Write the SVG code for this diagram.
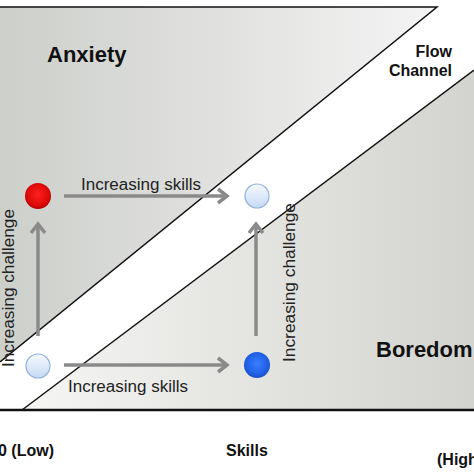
<svg xmlns="http://www.w3.org/2000/svg" width="474" height="474" viewBox="0 0 474 474">
  <style>
    .lbl { font-family: "Liberation Sans", Arial, sans-serif; fill: #111; }
    .big { font-size: 22px; font-weight: bold; }
    .mid { font-size: 16px; font-weight: bold; }
    .small { font-size: 16px; fill: #222; }
    .edge { stroke: #111; stroke-width: 1.5; fill: none; }
    .arrow { stroke: #8a8a8a; stroke-width: 3.5; fill: none; marker-end: url(#ah); }
    .light { fill: url(#gLight); stroke: #8fb2dc; stroke-width: 1.2; }
  </style>
  <defs>
    <linearGradient id="gAnx" x1="0" y1="0" x2="1" y2="0">
      <stop offset="0" stop-color="#cdcfcb"/>
      <stop offset="1" stop-color="#f4f4f4"/>
    </linearGradient>
    <linearGradient id="gBor" x1="0" y1="0" x2="1" y2="0">
      <stop offset="0" stop-color="#f5f5f3"/>
      <stop offset="1" stop-color="#d3d4d0"/>
    </linearGradient>
    <linearGradient id="gLight" x1="0" y1="0" x2="0" y2="1">
      <stop offset="0" stop-color="#f6f9fe"/>
      <stop offset="1" stop-color="#c6daf3"/>
    </linearGradient>
    <radialGradient id="gRed" cx="0.5" cy="0.45" r="0.55">
      <stop offset="0" stop-color="#ff2020"/>
      <stop offset="0.75" stop-color="#dd0a0a"/>
      <stop offset="1" stop-color="#b80000"/>
    </radialGradient>
    <radialGradient id="gBlue" cx="0.5" cy="0.45" r="0.55">
      <stop offset="0" stop-color="#3b7fff"/>
      <stop offset="0.75" stop-color="#1f5fe6"/>
      <stop offset="1" stop-color="#1a4fc4"/>
    </radialGradient>
    <marker id="ah" viewBox="-14 -10 18 20" markerWidth="18" markerHeight="20" refX="0" refY="0" orient="auto" markerUnits="userSpaceOnUse">
      <path d="M-9,-7 L0,0 L-9,7" fill="none" stroke="#8a8a8a" stroke-width="3.5"/>
    </marker>
  </defs>

  <rect width="474" height="474" fill="#ffffff"/>

  <g id="anxiety-region">
    <polygon points="0,7 437,7 0,362" fill="url(#gAnx)"/>
  </g>
  <g id="boredom-region">
    <polygon points="22,410 474,70 474,410" fill="url(#gBor)"/>
  </g>

  <g id="frame">
    <path class="edge" d="M0,7 H437 L0,362"/>
    <path class="edge" d="M474,70 L22,410"/>
    <path d="M0,410 H474" stroke="#111" stroke-width="2.5" fill="none"/>
  </g>

  <g id="connectors">
    <path class="arrow" d="M64,196 H227"/>
    <path class="arrow" d="M64,365 H227"/>
    <path class="arrow" d="M38,336 V224"/>
    <path class="arrow" d="M256,336 V224"/>
  </g>

  <g id="node-red">
    <circle cx="38" cy="196" r="13" fill="url(#gRed)"/>
  </g>
  <g id="node-flow-top">
    <circle class="light" cx="257" cy="196" r="12"/>
  </g>
  <g id="node-flow-bottom">
    <circle class="light" cx="38" cy="366" r="12"/>
  </g>
  <g id="node-blue">
    <circle cx="257" cy="365" r="13" fill="url(#gBlue)"/>
  </g>

  <g id="labels">
    <text class="lbl big" x="47" y="62">Anxiety</text>
    <text class="lbl mid" x="452" y="57" text-anchor="end">Flow</text>
    <text class="lbl mid" x="452" y="76" text-anchor="end">Channel</text>
    <text class="lbl big" x="376" y="357">Boredom</text>
    <text class="lbl mid" x="-2" y="456">0 (Low)</text>
    <text class="lbl mid" x="226" y="456">Skills</text>
    <text class="lbl mid" x="437" y="465">(High</text>
    <text class="lbl small" x="81" y="190" textLength="120" lengthAdjust="spacingAndGlyphs">Increasing skills</text>
    <text class="lbl small" x="68" y="392" textLength="120" lengthAdjust="spacingAndGlyphs">Increasing skills</text>
    <text class="lbl small" transform="translate(14,367) rotate(-90)" textLength="158" lengthAdjust="spacingAndGlyphs">Increasing challenge</text>
    <text class="lbl small" transform="translate(295,362) rotate(-90)" textLength="159" lengthAdjust="spacingAndGlyphs">Increasing challenge</text>
  </g>
</svg>
